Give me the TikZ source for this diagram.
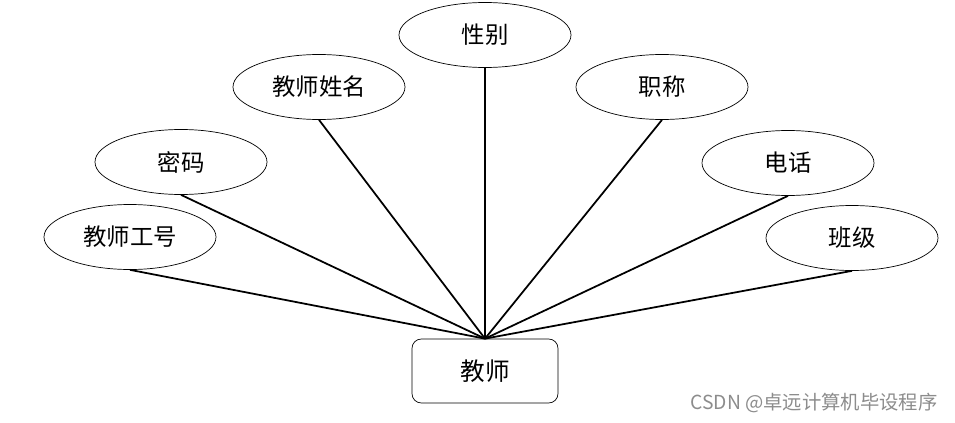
\documentclass[tikz,border=0pt]{standalone}
\usepackage{fontspec}
\usepackage{tikz}
\usetikzlibrary{shapes,positioning}
\newfontfamily\cjk{Noto Sans CJK SC}

\begin{document}
\begin{tikzpicture}[
            x=0.03cm, y=-0.03cm,
            attr/.style={ellipse, draw, line width=0.6pt, inner sep=0pt,
                         minimum width=5.16cm, minimum height=1.95cm, font=\cjk\fontsize{20}{22}\selectfont},
            entity/.style={rectangle, draw, rounded corners=8pt, line width=0.6pt, inner sep=0pt,
                         minimum width=4.38cm, minimum height=1.92cm, font=\cjk\fontsize{21}{23}\selectfont},
            link/.style={line width=1.5pt}
        ]
            \useasboundingbox (0,0) rectangle (955,423);
            % Entity
            \node[entity] (teacher) at (485,371) {教师};
            
            % Attributes
            \node[attr] (gender) at (485,35) {性别};
            \node[attr] (name) at (319,87) {教师姓名};
            \node[attr] (title) at (662,87) {职称};
            \node[attr] (pwd) at (181,162) {密码};
            \node[attr] (phone) at (788,163) {电话};
            \node[attr] (tid) at (130,237) {教师工号};
            \node[attr] (class) at (852,238) {班级};
            
            % Links
            \draw[link] (gender.south) -- (teacher.north);
            \draw[link] (name.south) -- (teacher.north);
            \draw[link] (title.south) -- (teacher.north);
            \draw[link] (pwd.south) -- (teacher.north);
            \draw[link] (phone.south) -- (teacher.north);
            \draw[link] (tid.south) -- (teacher.north);
            \draw[link] (class.south) -- (teacher.north);
            
            % Watermark
            \node[font=\cjk\fontsize{16.5}{18}\selectfont, text=black!45] (mark) at (814,403) {CSDN @卓远计算机毕设程序};
        \end{tikzpicture}
\end{document}
